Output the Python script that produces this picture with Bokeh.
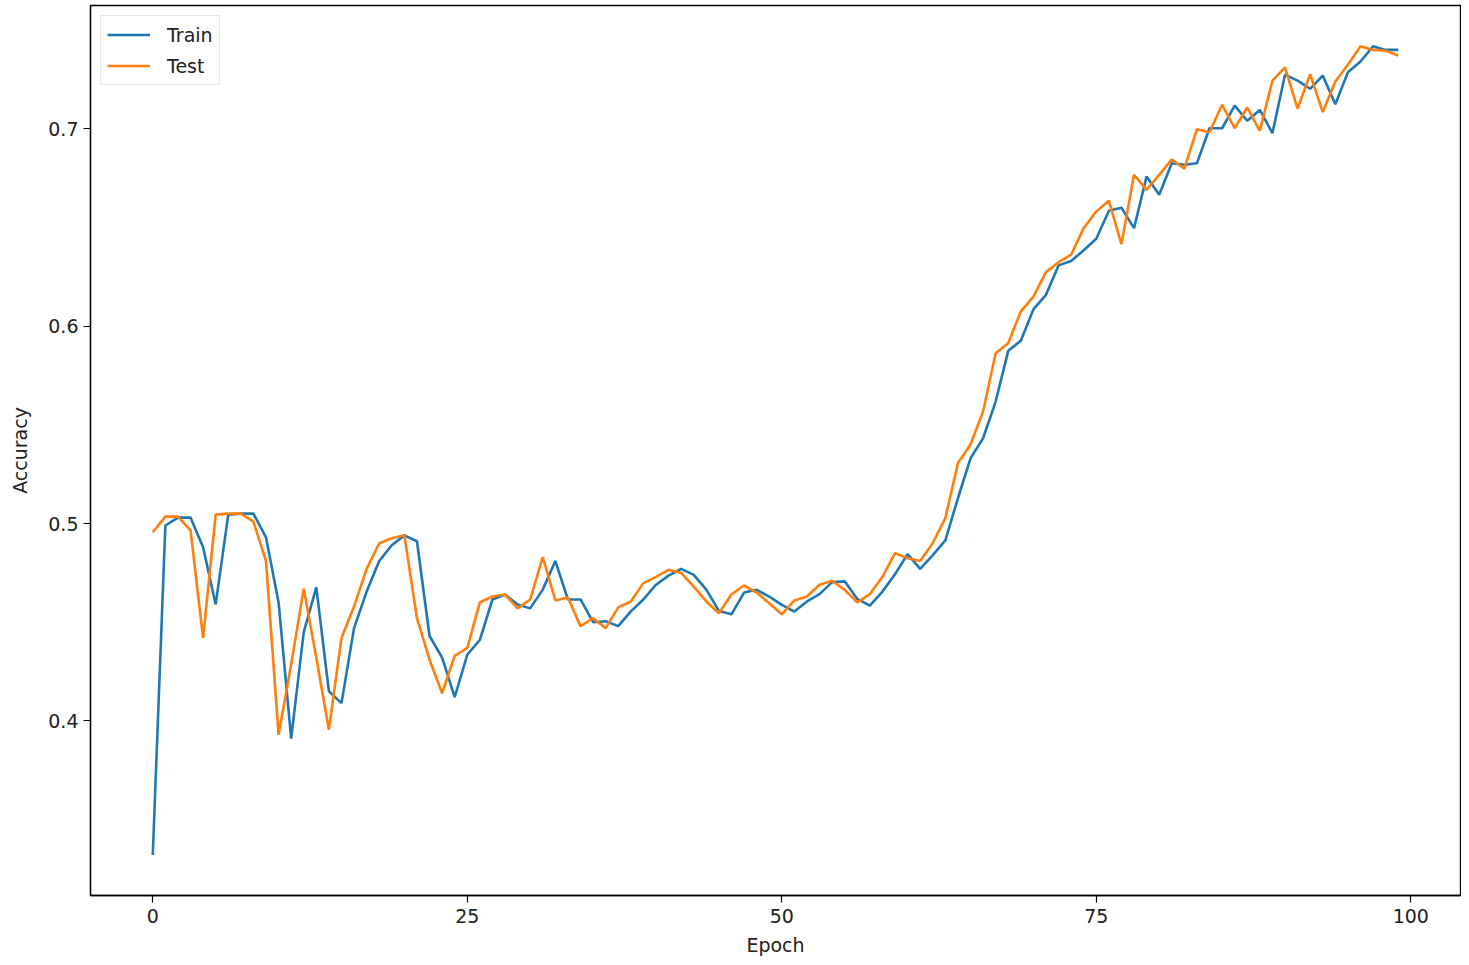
from bokeh.plotting import figure
from bokeh.models import Range1d, FixedTicker, Legend, LegendItem
from bokeh.embed import file_html
from bokeh.resources import INLINE

epochs = list(range(100))

train = [0.332, 0.499, 0.503, 0.503, 0.488, 0.459, 0.5045, 0.505, 0.505, 0.493,
         0.460, 0.391, 0.445, 0.4676, 0.415, 0.409, 0.447, 0.4655, 0.481, 0.489,
         0.494, 0.491, 0.443, 0.432, 0.412, 0.4335, 0.441, 0.4615, 0.464, 0.459,
         0.457, 0.4665, 0.481, 0.4615, 0.4615, 0.450, 0.4505, 0.448, 0.4555, 0.4615,
         0.469, 0.4736, 0.477, 0.474, 0.4665, 0.4557, 0.454, 0.465, 0.4664, 0.463,
         0.4588, 0.4554, 0.4605, 0.4642, 0.4703, 0.4707, 0.4618, 0.4584, 0.4655, 0.4743,
         0.4845, 0.477, 0.484, 0.4915, 0.5128, 0.533, 0.5432, 0.5618, 0.5875, 0.5926,
         0.6085, 0.6159, 0.6308, 0.633, 0.6385, 0.6443, 0.6585, 0.660, 0.6497, 0.6759,
         0.6666, 0.6826, 0.6818, 0.6826, 0.7003, 0.7003, 0.7118, 0.7041, 0.7096, 0.6978,
         0.7274, 0.7244, 0.7203, 0.727, 0.7125, 0.7287, 0.7341, 0.7418, 0.740, 0.740]

test = [0.4956, 0.5035, 0.5035, 0.4965, 0.442, 0.5045, 0.505, 0.505, 0.501, 0.481,
        0.393, 0.4285, 0.467, 0.432, 0.3955, 0.442, 0.458, 0.477, 0.490, 0.4925,
        0.494, 0.452, 0.431, 0.414, 0.433, 0.437, 0.460, 0.463, 0.464, 0.457,
        0.4615, 0.483, 0.461, 0.4625, 0.448, 0.452, 0.447, 0.4575, 0.4605, 0.4698,
        0.473, 0.4765, 0.475, 0.468, 0.4605, 0.4545, 0.464, 0.4686, 0.465, 0.4596,
        0.454, 0.461, 0.463, 0.469, 0.471, 0.4664, 0.460, 0.4642, 0.473, 0.485,
        0.4824, 0.481, 0.490, 0.5027, 0.5306, 0.540, 0.5568, 0.5863, 0.5914, 0.6075,
        0.615, 0.6274, 0.6324, 0.6362, 0.6497, 0.6581, 0.6636, 0.6416, 0.6767, 0.6691,
        0.6767, 0.6845, 0.6798, 0.6998, 0.6983, 0.7122, 0.7003, 0.7108, 0.699, 0.7244,
        0.7311, 0.7102, 0.7277, 0.7085, 0.724, 0.7325, 0.7418, 0.740, 0.7396, 0.7372]

x_ticks = [0, 25, 50, 75, 100]
y_ticks = [0.4, 0.5, 0.6, 0.7]
series_names = ["Train", "Test"]
series_colors = ["#1f77b4", "#ff7f0e"]

FONT = "DejaVu Sans"
FS = "19px"

p = figure(width=1461, height=958, output_backend="svg", toolbar_location=None,
           x_range=Range1d(-4.95, 103.95), y_range=Range1d(0.3115, 0.7625),
           min_border_left=90, min_border_right=1, min_border_top=5, min_border_bottom=63)

p.background_fill_color = "white"
p.border_fill_color = "white"
p.outline_line_color = "black"
p.outline_line_width = 1.3
p.xgrid.visible = False
p.ygrid.visible = False

r1 = p.line(epochs, train, line_color=series_colors[0], line_width=2.6)
r2 = p.line(epochs, test, line_color=series_colors[1], line_width=2.6)

p.xaxis.ticker = FixedTicker(ticks=x_ticks)
p.yaxis.ticker = FixedTicker(ticks=y_ticks)
p.yaxis.formatter.use_scientific = False

for ax in (p.xaxis[0], p.yaxis[0]):
    ax.axis_line_color = "black"
    ax.axis_line_width = 1.3
    ax.major_tick_line_color = "black"
    ax.major_tick_line_width = 1.2
    ax.major_tick_out = 7
    ax.major_tick_in = 0
    ax.minor_tick_line_color = None
    ax.major_label_text_font = FONT
    ax.major_label_text_font_size = FS
    ax.major_label_text_color = "#222222"
    ax.axis_label_text_font = FONT
    ax.axis_label_text_font_size = FS
    ax.axis_label_text_font_style = "normal"
    ax.axis_label_text_color = "#222222"

p.xaxis.axis_label = "Epoch"
p.yaxis.axis_label = "Accuracy"
p.xaxis.major_label_standoff = 6
p.xaxis.axis_label_standoff = 8
p.yaxis.major_label_standoff = 5
p.yaxis.axis_label_standoff = 14

legend = Legend(items=[LegendItem(label=series_names[0], renderers=[r1]),
                       LegendItem(label=series_names[1], renderers=[r2])],
                location="top_left", margin=10, padding=6, spacing=6,
                glyph_width=43, glyph_height=25, label_height=25,
                label_standoff=17,
                label_text_font=FONT, label_text_font_size=FS,
                label_text_color="#222222",
                border_line_color="#cccccc", border_line_width=1.2,
                background_fill_color="white", background_fill_alpha=0.85)
p.add_layout(legend)

open("out.html", "w").write(file_html(p, INLINE))
